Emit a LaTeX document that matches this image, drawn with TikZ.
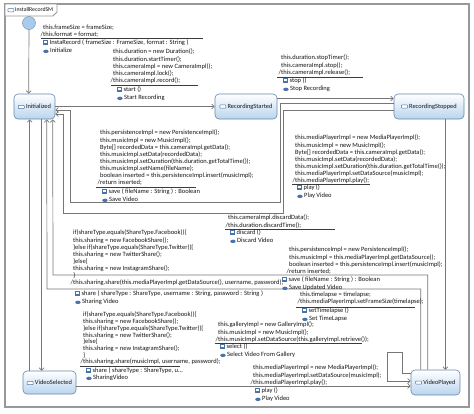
\documentclass[tikz,border=0pt]{standalone}
\usepackage{fontspec}
\setmainfont{Carlito}
\usetikzlibrary{arrows.meta,positioning}

\definecolor{stateline}{HTML}{6787AA}
\definecolor{statefill}{HTML}{B9D5EF}
\definecolor{initfill}{HTML}{A9CBEA}
\definecolor{transline}{HTML}{767676}
\definecolor{sepline}{HTML}{3C3C3C}
\definecolor{iconblue}{HTML}{4A74A8}
\definecolor{framegray}{HTML}{989898}
\definecolor{labeltext}{HTML}{141414}

\newcommand{\stateicon}{\tikz[baseline=0pt]\draw[iconblue,line width=0.5pt,fill=white,rounded corners=0.6pt] (0pt,0pt) rectangle (6pt,3.2pt);}
\newcommand{\trigicon}{\tikz[baseline=0pt]{\fill[iconblue] (0pt,-0.5pt) rectangle (5pt,4.5pt); \fill[white] (1pt,2.3pt) rectangle (4pt,3.5pt);}}
\newcommand{\evicon}{\tikz[baseline=0pt]\fill[iconblue] (2.75pt,1.6pt) ellipse (2.75pt and 1.7pt);}

\begin{document}
\begin{tikzpicture}[x=1pt,y=-1pt]
	\tikzstyle{state}=[draw=stateline, line width=0.6pt, rounded corners=4pt, top color=white, bottom color=statefill, inner sep=0pt, text=labeltext, font=\fontsize{6.4}{7}\selectfont]
	\tikzstyle{trans}=[draw=transline, line width=0.7pt, -{Straight Barb[length=2.5pt,width=5pt]}]
	\tikzstyle{code}=[anchor=north west, inner sep=0pt, align=left, text=labeltext, font=\fontsize{6.5}{7.1}\selectfont]
	\tikzstyle{trig}=[anchor=north west, inner sep=0pt, align=left, text=labeltext, font=\fontsize{6.5}{8}\selectfont]
	\tikzstyle{sep}=[draw=sepline, line width=0.6pt]

	\useasboundingbox (0,0) rectangle (474,413);
	\draw[framegray, line width=1.8pt] (5,4) rectangle (469,407);
	\draw[framegray, line width=0.8pt, fill=white] (5,4) -- (57,4) -- (57,12) -- (53,16) -- (5,16) -- cycle;
	\node[anchor=west, inner sep=0pt, text=labeltext, font=\fontsize{5.8}{7}\selectfont] (title) at (7.5,10) {\stateicon\,InstallRecordSM};

	\node[draw=stateline, fill=initfill, circle, minimum size=13pt, inner sep=0pt] (start) at (29,23) {};

	\node[state, minimum width=41pt, minimum height=25pt] (init) at (34.5,106.5) {\stateicon\ Initialized};
	\node[state, minimum width=62pt, minimum height=25pt] (rs) at (246,106.5) {\stateicon\ RecordingStarted};
	\node[state, minimum width=70pt, minimum height=25pt] (rst) at (429,106.5) {\stateicon\ RecordingStopped};
	\node[state, minimum width=53pt, minimum height=23pt] (vs) at (49.5,382.5) {\stateicon\ VideoSelected};
	\node[state, minimum width=49pt, minimum height=25pt] (vp) at (435.5,382.5) {\stateicon\ VideoPlayed};

	% transitions
	\draw[trans] (start) -- ([xshift=15pt]init.north west);
	\draw[trans] (init.east) -- (rs.west);
	\draw[trans] ([yshift=8pt]rs.east) -- ([yshift=8pt]rst.west);
	\draw[trans] ([yshift=3pt]rst.west) -| (280,202) -| (70,110) -- ([yshift=-3.5pt]init.east);
	\draw[trans] ([yshift=-3.5pt]rst.west) -| (283,213) -| (63,114) -- ([yshift=-7.5pt]init.east);
	\draw[trans] ([xshift=-19pt]rst.south east) -- ([xshift=-15pt]vp.north east);
	\draw[trans] ([xshift=17pt]vp.north west) |- (53,275) -- ([xshift=39pt]init.south west);
	\draw[trans] ([xshift=10pt]vp.north west) |- (47,289) -- ([xshift=33pt]init.south west);
	\draw[trans] ([xshift=28pt]init.south west) -- ([xshift=19pt]vs.north west);
	\draw[trans] ([xshift=7pt]vs.north west) -- ([xshift=16pt]init.south west);
	\draw[trans] ([yshift=-3.5pt]vs.east) -- ([yshift=-3.5pt]vp.west);
	\draw[trans] ([yshift=9.5pt]vp.west) -| (402,352) -| (387,381) -- ([yshift=1.5pt]vp.west);

	% labels
	\node[code] (initC) at (43,25) {this.frameSize = frameSize;\\\llap{/}this.format = format;};
	\draw[sep] (41,38) -- (203,38);
	\node[trig] (initT) at (43,40) {\trigicon\ InstaRecord ( frameSize : FrameSize, format : String )\\\evicon\ Initialize};

	\node[code] (startC) at (113,49) {this.duration = new Duration();\\this.duration.startTimer();\\this.cameraImpl = new CameraImpl();\\this.cameraImpl.lock();\\\llap{/}this.cameraImpl.record();};
	\draw[sep] (111,85) -- (198,85);
	\node[trig] (startT) at (117,87) {\trigicon\ start ()\\\evicon\ Start Recording};

	\node[code] (stopC) at (281,55) {this.duration.stopTimer();\\this.cameraImpl.stop();\\\llap{/}this.cameraImpl.release();};
	\draw[sep] (277,77) -- (363,77);
	\node[trig] (stopT) at (283,78) {\trigicon\ stop ()\\\evicon\ Stop Recording};

	\node[code] (saveC) at (100,130) {this.persistenceImpl = new PersistenceImpl();\\this.musicImpl = new MusicImpl();\\Byte[] recordedData = this.cameraImpl.getData();\\this.musicImpl.setData(recordedData);\\this.musicImpl.setDuration(this.duration.getTotalTime());\\this.musicImpl.setName(fileName);\\boolean inserted = this.persistenceImpl.insert(musicImpl);\\\llap{/}return inserted;};
	\draw[sep] (96,187) -- (196,187);
	\node[trig] (saveT) at (102,189) {\trigicon\ save ( fileName : String ) : Boolean\\\evicon\ Save Video};

	\node[code] (playC) at (295,135) {this.mediaPlayerImpl = new MediaPlayerImpl();\\this.musicImpl = new MusicImpl();\\Byte[] recordedData = this.cameraImpl.getData();\\this.musicImpl.setData(recordedData);\\this.musicImpl.setDuration(this.duration.getTotalTime());\\this.mediaPlayerImpl.setDataSource(musicImpl);\\\llap{/}this.mediaPlayerImpl.play();};
	\draw[sep] (292,184) -- (370,184);
	\node[trig] (playT) at (297,185) {\trigicon\ play ()\\\evicon\ Play Video};

	\node[code] (discardC) at (228,215) {this.cameraImpl.discardData();\\\llap{/}this.duration.discardTime();};
	\draw[sep] (225,229) -- (335,229);
	\node[trig] (discardT) at (230,230) {\trigicon\ discard ()\\\evicon\ Discard Video};

	\node[code] (shareC) at (73,230) {if(shareType.equals(ShareType.Facebook))\{\\this.sharing = new FacebookShare();\\\}else if(shareType.equals(ShareType.Twitter))\{\\this.sharing = new TwitterShare();\\\}else\{\\this.sharing = new InstagramShare();\\\}\\\llap{/}this.sharing.share(this.mediaPlayerImpl.getDataSource(), username, password);};
	\node[trig] (shareT) at (75,291) {\trigicon\ share ( shareType : ShareType, username : String, password : String )\\\evicon\ Sharing Video};

	\node[code] (saveUpdC) at (289,247) {this.persistenceImpl = new PersistenceImpl();\\this.musicImpl = this.mediaPlayerImpl.getDataSource();\\boolean inserted = this.persistenceImpl.insert(musicImpl);\\\llap{/}return inserted;};
	\node[trig] (saveUpdT) at (282,277) {\trigicon\ save ( fileName : String ) : Boolean\\\evicon\ Save Updated Video};

	\node[code] (lapseC) at (300,292) {this.timelapse = timelapse;\\\llap{/}this.mediaPlayerImpl.setFrameSize(timelapse);};
	\draw[sep] (296,307) -- (415,307);
	\node[trig] (lapseT) at (302,308) {\trigicon\ setTimelapse ()\\\evicon\ Set TimeLapse};

	\node[code] (selectC) at (218,322) {this.galleryImpl = new GalleryImpl();\\this.musicImpl = new MusicImpl();\\\llap{/}this.musicImpl.setDataSource(this.galleryImpl.retrieve());};
	\draw[sep] (215,343) -- (362,343);
	\node[trig] (selectT) at (220,344) {\trigicon\ select ()\\\evicon\ Select Video From Gallery};

	\node[code, font=\fontsize{6.5}{6.7}\selectfont] (shareTwoC) at (83,312) {if(shareType.equals(ShareType.Facebook))\{\\this.sharing = new FacebookShare();\\\}else if(shareType.equals(ShareType.Twitter))\{\\this.sharing = new TwitterShare();\\\}else\{\\this.sharing = new InstagramShare();\\\}\\\llap{/}this.sharing.share(musicImpl, username, password);};
	\draw[sep] (80,366) -- (180,366);
	\node[trig, font=\fontsize{6.5}{7}\selectfont] (shareTwoT) at (86,368) {\trigicon\ share ( shareType : ShareType, u...\\\evicon\ SharingVideo};

	\node[code] (playTwoC) at (253,365) {this.mediaPlayerImpl = new MediaPlayerImpl();\\this.mediaPlayerImpl.setDataSource(musicImpl);\\\llap{/}this.mediaPlayerImpl.play();};
	\node[trig] (playTwoT) at (255,388) {\trigicon\ play ()\\\evicon\ Play Video};
\end{tikzpicture}
\end{document}
